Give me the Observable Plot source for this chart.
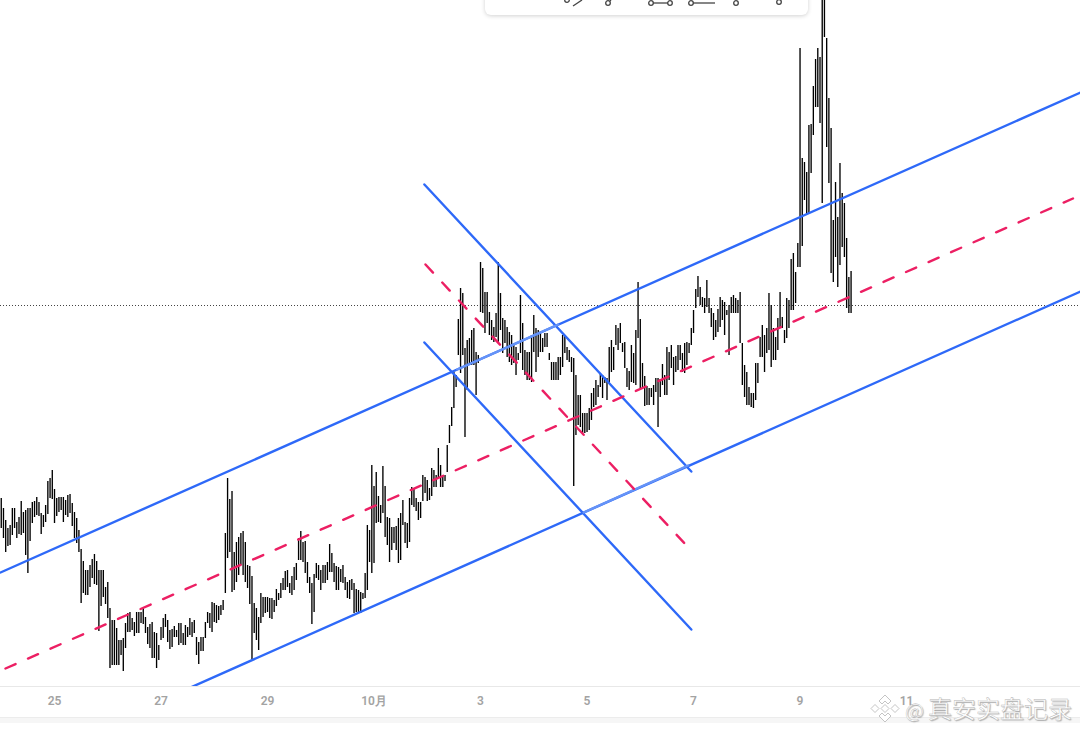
<!DOCTYPE html>
<html><head><meta charset="utf-8">
<script src="https://cdn.jsdelivr.net/npm/d3@7"></script>
<script src="https://cdn.jsdelivr.net/npm/@observablehq/plot@0.6"></script>
<style>
html,body{margin:0;padding:0;background:#fff;width:1080px;height:734px;overflow:hidden}
#wrap{position:relative;width:1080px;height:734px}
#chart svg{display:block}
.strip{position:absolute;left:0;top:717px;width:1080px;height:5px;background:#f6f6f6;border-top:1px solid #ececec}
.tools{position:absolute;left:485px;top:-20px;width:323px;height:35px;background:#fff;border-radius:6px;box-shadow:0 1px 4px rgba(0,0,0,.18)}
.icons{position:absolute;left:485px;top:0}
.wm{position:absolute;left:905px;top:691px;font:24px "Noto Sans CJK SC",sans-serif;line-height:34px;color:rgba(255,255,255,.95);white-space:nowrap;-webkit-text-stroke:.35px rgba(150,150,150,.75);text-shadow:1px 1px 1px rgba(130,130,130,.55)}
.wm .at{font-size:20px;display:inline-block;width:23px}
.logo{position:absolute;left:870px;top:694px}
</style></head><body>
<div id="wrap"><div id="chart"></div>
<div class="strip"></div>
<div class="tools"></div>
<svg class="icons" width="323" height="12" fill="none" stroke="#444" stroke-width="1.3">
<circle cx="82" cy="0" r="2.3"/><path d="M88 6L97 0"/><circle cx="123" cy="3" r="2.3"/><path d="M125 1L126 0"/>
<circle cx="166" cy="3" r="2.3"/><path d="M168 3H183"/><circle cx="185" cy="3" r="2.3"/>
<circle cx="206" cy="3" r="2.3"/><path d="M208 3H230"/><circle cx="251" cy="3" r="2.3"/><circle cx="294" cy="2" r="2.3"/>
</svg>
<svg class="logo" width="30" height="30" fill="#fff" stroke="#bdbdbd" stroke-width=".9">
<path d="M15 1L21 7L18 10L15 7L12 10L9 7Z"/><path d="M15 28L21 22L18 19L15 22L12 19L9 22Z"/><path d="M1 14.5L5 10.5L9 14.5L5 18.5Z"/><path d="M29 14.5L25 10.5L21 14.5L25 18.5Z"/><path d="M15 10.5L19 14.5L15 18.5L11 14.5Z"/>
</svg>
<div class="wm"><span class="at">@</span>真安实盘记录</div>
</div>
<script>
// Hourly bars, starting 2024-09-24 00:00. Values are levels on the chart's unlabeled price scale (larger = lower on screen).
const highs = [498,508,520,528,525,508,508,522,517,501,512,510,508,508,502,501,497,502,513,515,505,481,478,470,489,498,497,497,497,500,495,494,503,512,518,530,549,561,570,570,565,559,554,561,570,570,570,587,582,608,620,620,628,640,640,638,623,613,612,618,622,612,612,612,608,617,627,624,622,632,633,645,627,618,614,620,630,629,626,630,623,623,633,625,627,618,622,620,637,642,637,637,622,612,613,602,603,605,606,605,600,533,478,499,491,552,542,537,533,531,542,565,566,576,603,608,617,593,597,597,597,598,
598,600,589,593,583,578,571,570,583,576,567,563,538,531,542,541,562,577,583,574,563,565,570,565,565,562,544,553,563,566,567,569,565,577,582,580,579,583,589,590,592,593,573,525,530,465,486,472,496,505,466,486,517,518,527,527,526,518,513,500,522,523,498,487,488,498,502,502,475,477,480,488,468,470,475,448,465,475,475,445,425,407,372,375,319,288,293,348,340,338,330,328,352,355,262,268,292,292,312,320,327,313,262,293,318,320,327,332,335,343,347,353,295,323,350,352,352,335,315,328,330,
333,338,333,333,353,362,362,362,357,357,335,336,347,350,357,358,375,395,395,413,413,413,408,393,388,380,385,373,375,377,378,347,340,347,325,328,323,343,342,368,371,345,353,330,282,319,363,376,386,388,388,385,378,378,379,364,375,347,352,345,357,356,345,345,353,343,342,343,328,310,289,276,287,297,298,280,298,308,313,320,309,297,300,302,310,305,297,295,298,300,292,343,365,372,387,393,393,363,363,337,325,335,328,293,305,328,337,318,292,317,330,298,300,
259,253,272,243,48,158,162,172,125,124,86,59,48,57,-5,-5,38,98,128,220,182,217,163,193,203,238,277,271];
const lows = [528,538,552,546,545,535,528,538,534,535,533,555,573,541,523,517,515,516,534,527,522,514,498,499,523,516,512,510,522,515,517,513,526,538,543,552,603,593,595,595,587,578,584,585,631,606,597,604,618,668,665,665,665,665,655,671,648,632,632,630,636,633,633,623,624,633,644,648,658,658,668,660,640,638,627,642,649,647,637,637,645,643,645,645,637,635,637,633,655,664,651,651,638,623,628,632,622,623,620,615,610,593,558,552,592,590,582,575,565,575,582,588,604,659,633,640,650,623,617,613,612,618,
619,612,606,600,598,590,590,587,593,595,590,580,560,560,562,573,583,593,624,612,578,580,590,583,583,580,572,572,582,590,590,582,583,590,598,599,590,613,612,613,613,599,598,590,562,573,563,523,522,523,513,537,545,562,550,543,550,563,560,525,543,548,542,505,507,511,520,518,501,493,501,500,496,487,487,477,487,487,481,472,443,426,408,387,355,373,355,437,390,365,365,365,395,363,312,313,333,323,335,340,342,337,343,330,353,343,357,362,365,363,375,360,353,370,375,380,380,382,352,372,357,
352,352,347,347,360,380,380,380,380,375,367,353,360,362,372,486,435,425,427,433,433,432,430,420,407,405,397,387,398,383,400,383,372,370,345,350,343,352,368,387,390,382,383,385,338,390,387,406,405,405,397,405,392,427,397,385,395,395,380,368,385,372,370,360,372,373,365,353,345,333,308,297,305,307,313,307,313,327,340,337,332,327,320,335,315,355,313,313,313,313,343,385,397,405,405,407,408,400,383,357,357,372,353,350,367,360,360,350,328,328,343,338,328,
310,310,303,267,267,246,200,215,213,173,135,107,107,123,203,37,147,183,273,282,257,287,265,247,257,308,313,313];

// Axis labels: day of the tick, from the picture
const tickDays = ["2024-09-25","2024-09-27","2024-09-29","2024-10-01","2024-10-03","2024-10-05","2024-10-07","2024-10-09","2024-10-11"];
const tickLabels = ["25","27","29","10月","3","5","7","9","11"];

// Trend lines: [bar hour since start, level]
const upperChannel = [[-0.34,572],[486.4,92]];
const lowerChannel = [[85.3,687],[486.4,291]];
const midChannel   = [[1.9,668],[483,198]];
const crossUpper   = [[190.7,184],[311,471]];
const crossMid     = [[191.2,264],[308,543]];
const crossLower   = [[190.7,342],[311,629]];
const upperFaded   = [[205.5,369],[251,324]];
const lowerFaded   = [[262.5,512],[309.5,465]];
const lastPrice = 305;

const start = Date.UTC(2024,8,24);
const at = h => new Date(start + h*3600e3);
const bars = highs.map((h,i)=>({t:at(i),high:h,low:lows[i]}));
const line = pts => pts.map(([h,v])=>({t:at(h),v}));
const blue="#2e69f8", paleBlue="#6593f7", pink="#ec1f63";
const tickDates = tickDays.map(d=>new Date(d+"T00:00Z"));
const labelOf = new Map(tickDates.map((d,i)=>[+d,tickLabels[i]]));

const chart = Plot.plot({
  width:1080,height:734,
  marginTop:0,marginLeft:0,marginRight:0,marginBottom:48,
  style:{background:"#fff",fontFamily:"Roboto,sans-serif"},
  x:{type:"time",domain:[at(-0.34),at(486.4)]},
  y:{domain:[0,686],range:[0,686]},
  marks:[
    Plot.ruleY([686],{stroke:"#e8e8e8"}),
    Plot.ruleY([lastPrice],{stroke:"#444",strokeWidth:1,strokeDasharray:"1 2"}),
    Plot.ruleX(bars,{x:"t",y1:"high",y2:"low",stroke:"#000",strokeWidth:1.35,clip:true}),
    ...[upperChannel,lowerChannel,crossUpper,crossLower].map(p=>Plot.line(line(p),{x:"t",y:"v",stroke:blue,strokeWidth:2.4,clip:true})),
    ...[upperFaded,lowerFaded].map(p=>Plot.line(line(p),{x:"t",y:"v",stroke:paleBlue,strokeWidth:2.4,clip:true})),
    ...[midChannel,crossMid].map(p=>Plot.line(line(p),{x:"t",y:"v",stroke:pink,strokeWidth:2.4,strokeDasharray:"11 13.6",clip:true})),
    Plot.axisX({ticks:tickDates,tickFormat:d=>labelOf.get(+d),tickSize:0,tickPadding:10,label:null,fontSize:12,fontWeight:600,stroke:"none",fill:"#a3a3a3"}),
    Plot.axisY({ticks:[],label:null,tickSize:0})
  ]
});
document.getElementById("chart").append(chart);
</script>
</body></html>
